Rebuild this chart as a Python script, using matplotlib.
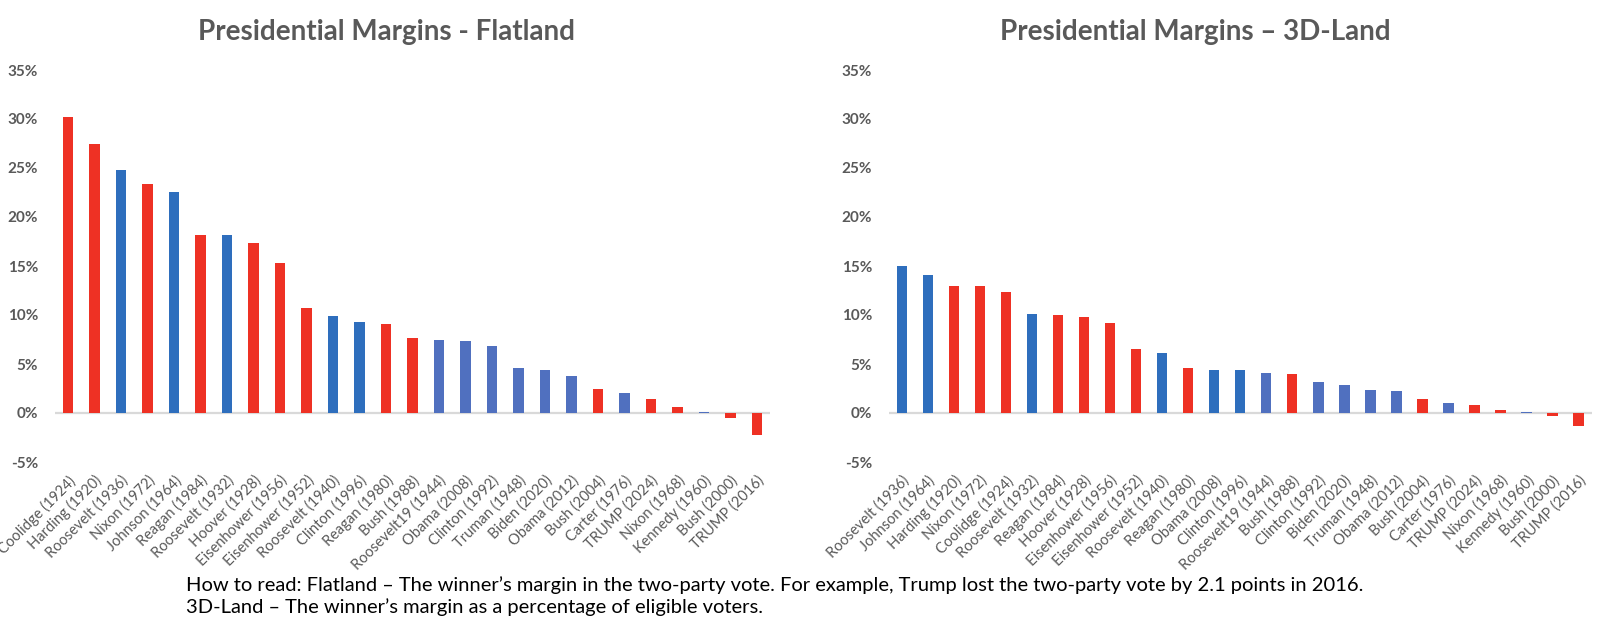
import matplotlib
matplotlib.use("Agg")
import matplotlib.pyplot as plt
from matplotlib.ticker import FuncFormatter

plt.rcParams['font.family'] = ['Lato', 'DejaVu Sans']

RED = "#EE3124"
BLUE = "#2E6EBD"
BLUE2 = "#5070BF"
GRAY = "#595959"

# -----------------------
# Data: Flatland (two-party vote margin, %)
# -----------------------
flat_names = ["Coolidge (1924)", "Harding (1920)", "Roosevelt (1936)", "Nixon (1972)",
              "Johnson (1964)", "Reagan (1984)", "Roosevelt (1932)", "Hoover (1928)",
              "Eisenhower (1956)", "Eisenhower (1952)", "Roosevelt (1940)", "Clinton (1996)",
              "Reagan (1980)", "Bush (1988)", "Roosevelt19 (1944)", "Obama (2008)",
              "Clinton (1992)", "Truman (1948)", "Biden (2020)", "Obama (2012)",
              "Bush (2004)", "Carter (1976)", "TRUMP (2024)", "Nixon (1968)",
              "Kennedy (1960)", "Bush (2000)", "TRUMP (2016)"]
flat_vals = [30.2, 27.5, 24.8, 23.4, 22.5, 18.2, 18.2, 17.3, 15.3, 10.7, 9.9, 9.3,
             9.05, 7.7, 7.45, 7.3, 6.85, 4.55, 4.4, 3.8, 2.4, 2.0, 1.4, 0.65,
             0.1, -0.55, -2.2]
flat_party = ["R", "R", "D", "R", "D", "R", "D", "R", "R", "R", "D", "D",
              "R", "R", "d", "d", "d", "d", "d", "d", "R", "d", "R", "R",
              "d", "R", "R"]

# -----------------------
# Data: 3D-Land (margin as % of eligible voters)
# -----------------------
land_names = ["Roosevelt (1936)", "Johnson (1964)", "Harding (1920)", "Nixon (1972)",
              "Coolidge (1924)", "Roosevelt (1932)", "Reagan (1984)", "Hoover (1928)",
              "Eisenhower (1956)", "Eisenhower (1952)", "Roosevelt (1940)", "Reagan (1980)",
              "Obama (2008)", "Clinton (1996)", "Roosevelt19 (1944)", "Bush (1988)",
              "Clinton (1992)", "Biden (2020)", "Truman (1948)", "Obama (2012)",
              "Bush (2004)", "Carter (1976)", "TRUMP (2024)", "Nixon (1968)",
              "Kennedy (1960)", "Bush (2000)", "TRUMP (2016)"]
land_vals = [15.0, 14.1, 13.0, 13.0, 12.3, 10.1, 10.0, 9.8, 9.2, 6.55, 6.1, 4.55,
             4.35, 4.35, 4.1, 4.0, 3.2, 2.9, 2.3, 2.2, 1.4, 1.0, 0.85, 0.3,
             0.1, -0.35, -1.35]
land_party = ["D", "D", "R", "R", "R", "D", "R", "R", "R", "R", "D", "R",
              "D", "D", "d", "R", "d", "d", "d", "d", "R", "d", "R", "R",
              "d", "R", "R"]

COLORS = {"R": RED, "D": BLUE, "d": BLUE2}

fig = plt.figure(figsize=(16, 6.44), dpi=100)
W, H = 1600.0, 644.0


def draw(rect, names, vals, party, title, title_x):
    ax = fig.add_axes(rect)
    x = range(len(names))
    ax.bar(x, vals, width=0.4, color=[COLORS[p] for p in party], zorder=3)
    ax.axhline(0, color="#D9D9D9", lw=1.6, zorder=2)
    ax.set_xlim(-0.5, len(names) - 0.5)
    ax.set_ylim(-5, 35)
    ax.set_yticks(range(-5, 36, 5))
    ax.yaxis.set_major_formatter(FuncFormatter(lambda v, p: f"{v:.0f}%"))
    ax.set_xticks(list(x))
    ax.set_xticklabels(names, rotation=45, ha="right", rotation_mode="anchor",
                       fontsize=10.5, color=GRAY)
    for lab in ax.get_yticklabels():
        lab.set_color(GRAY)
        lab.set_fontsize(11)
        lab.set_fontweight("bold")
    ax.tick_params(axis="both", length=0)
    ax.tick_params(axis="y", pad=12)
    ax.tick_params(axis="x", pad=8)
    for s in ax.spines.values():
        s.set_visible(False)
    fig.text(title_x / W, 1 - 32 / H, title, ha="center", va="center",
             fontsize=20, fontweight="bold", color=GRAY)
    return ax


bottom = 1 - 462 / H
height = (462 - 70) / H
draw([54.75 / W, bottom, 715.5 / W, height], flat_names, flat_vals, flat_party,
     "Presidential Margins - Flatland", 386)
draw([888.7 / W, bottom, 703 / W, height], land_names, land_vals, land_party,
     "Presidential Margins \u2013 3D-Land", 1195)

fig.text(186 / W, 1 - 585 / H,
         "How to read: Flatland \u2013 The winner\u2019s margin in the two-party vote. "
         "For example, Trump lost the two-party vote by 2.1 points in 2016.",
         ha="left", va="center", fontsize=14.5, color="black")
fig.text(186 / W, 1 - 607 / H,
         "3D-Land \u2013 The winner\u2019s margin as a percentage of eligible voters.",
         ha="left", va="center", fontsize=14.5, color="black")

fig.savefig("out.png", dpi=100)
